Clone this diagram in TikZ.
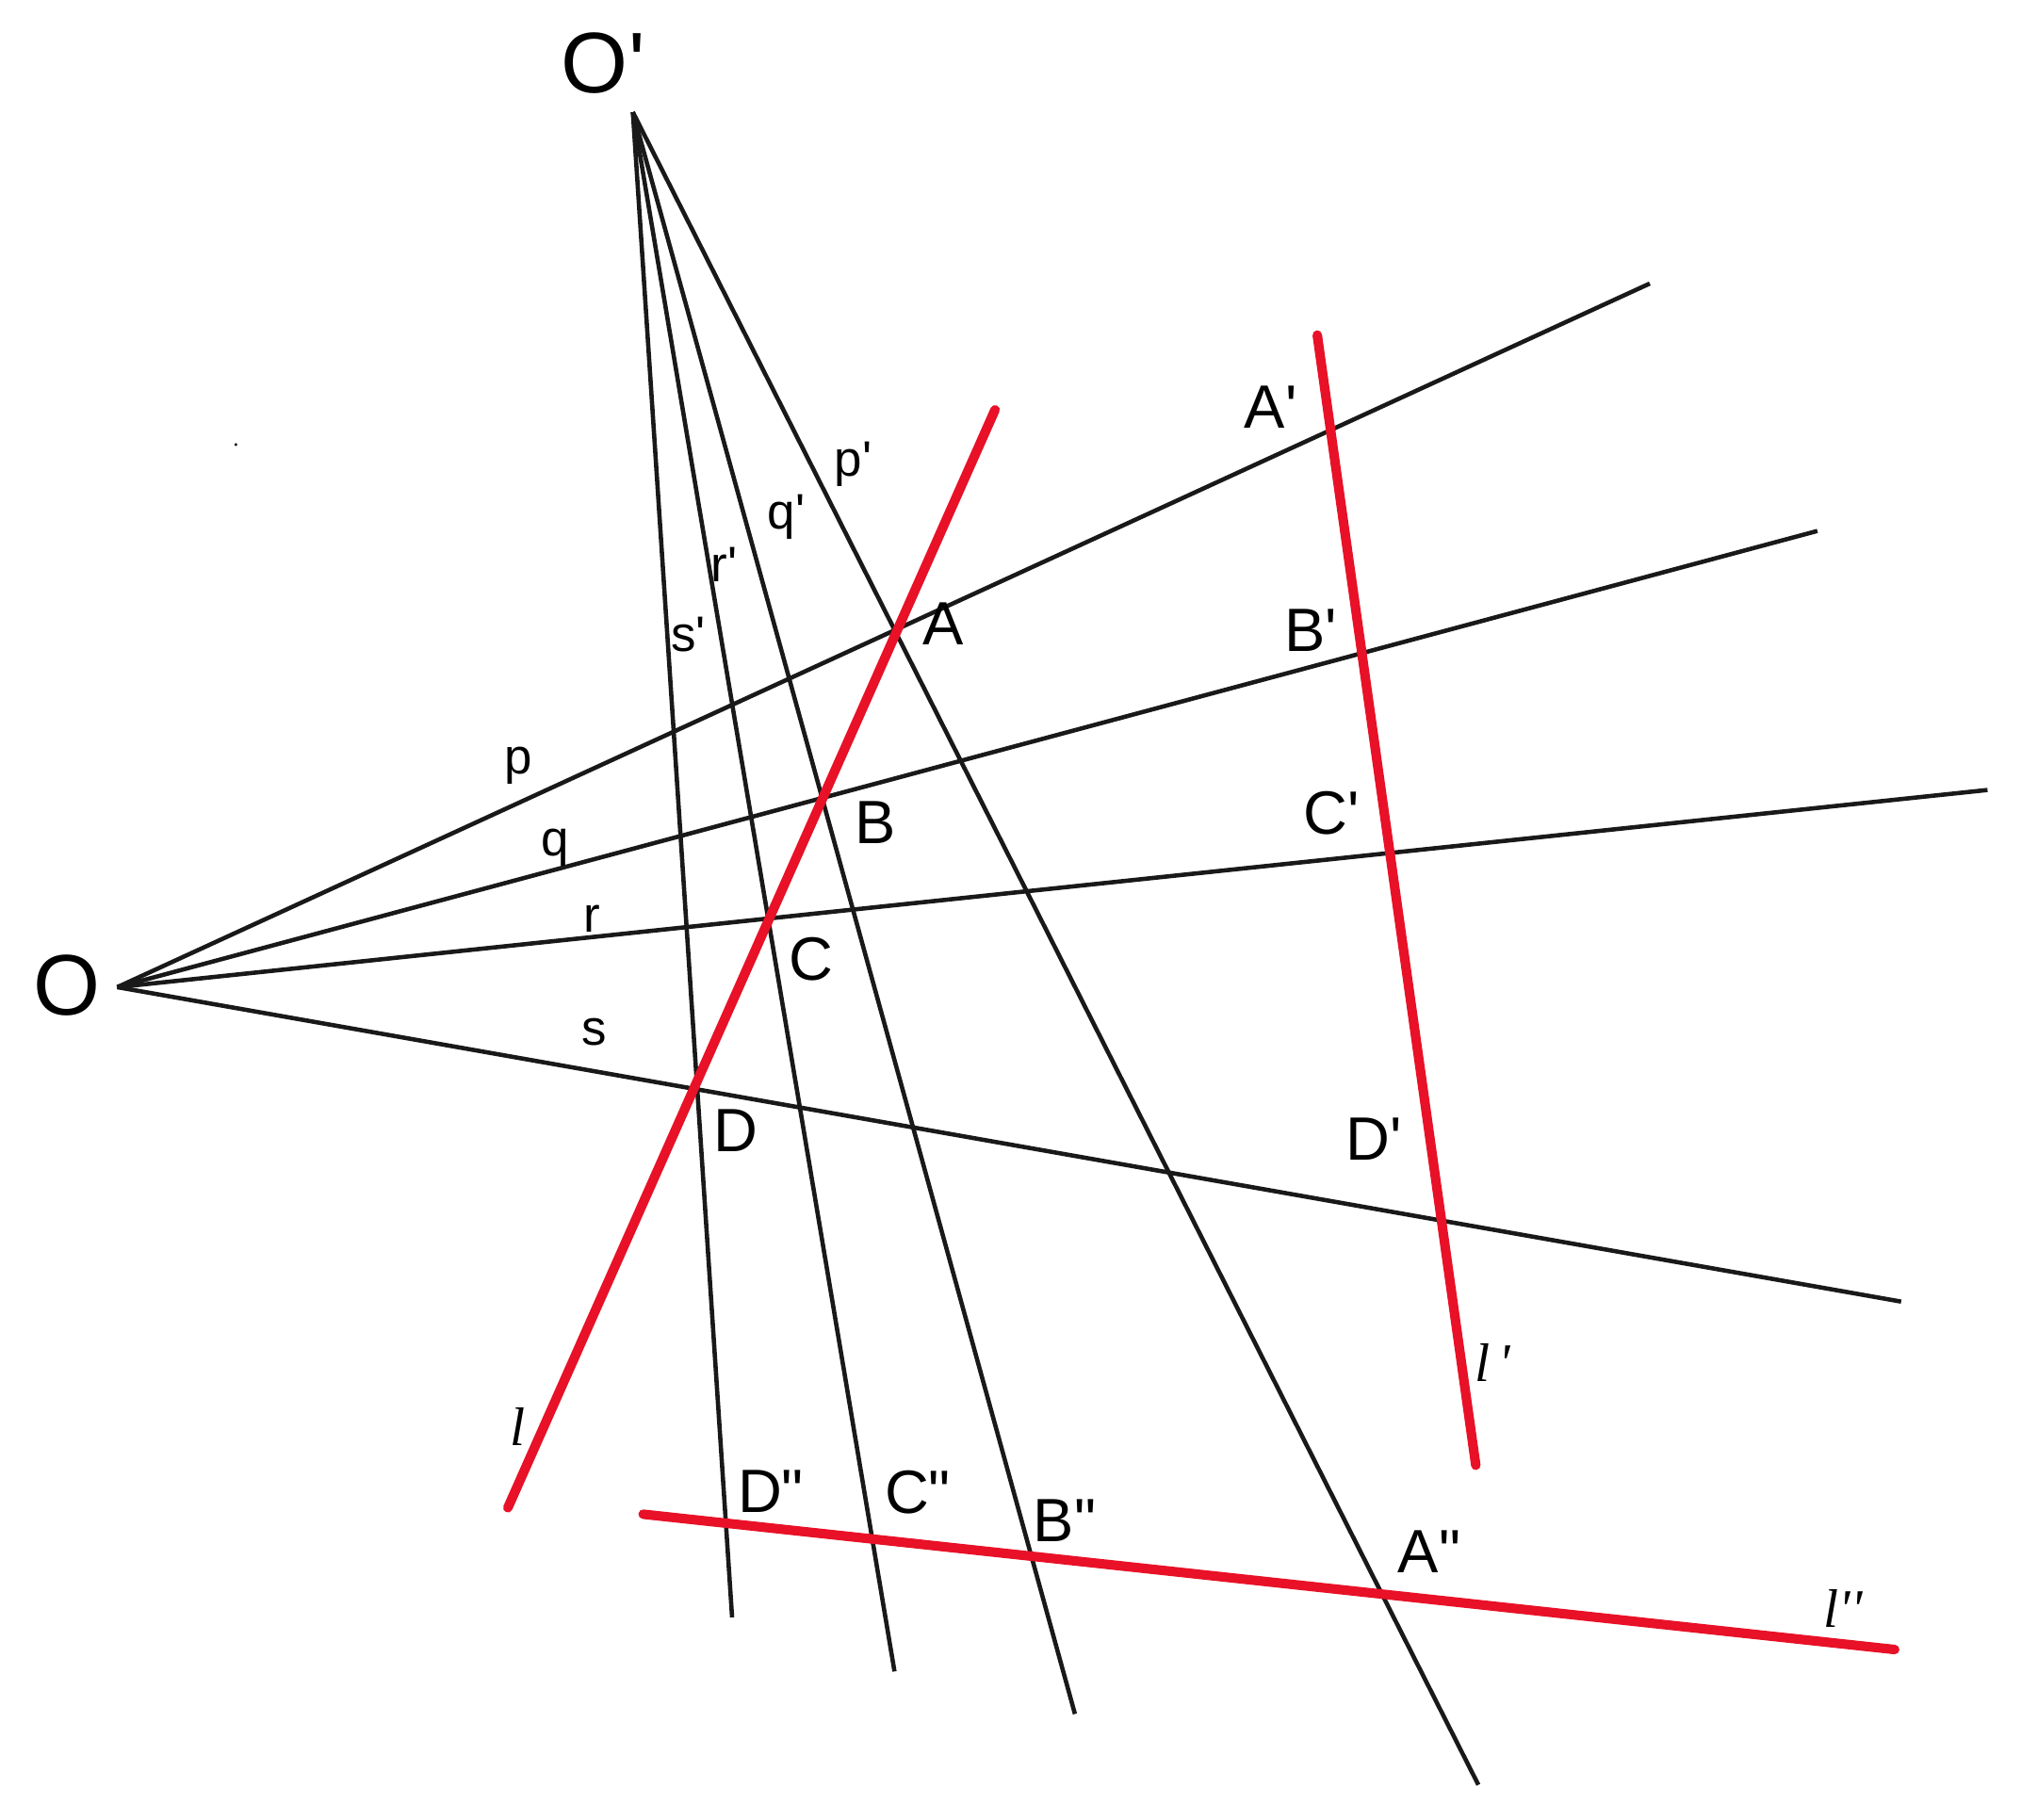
\documentclass[tikz,border=0pt]{standalone}
\usepackage{fontspec}
\setmainfont{Liberation Sans}[Ligatures=TeXOff]
\newfontfamily\ellfont{Liberation Serif}[Ligatures=TeXOff]
\definecolor{linered}{RGB}{232,17,39}

\begin{document}
\begin{tikzpicture}[x=0.1mm, y=-0.1mm]
        \useasboundingbox (0,0) rectangle (1568,1412);

        % Centres of the two pencils
        \coordinate (O) at (91,766);
        \coordinate (O') at (491,87);

        % Far ends of the lines through O
        \coordinate (p) at (1280,220);
        \coordinate (q) at (1410,412);
        \coordinate (r) at (1542,613);
        \coordinate (s) at (1475,1010);

        % Far ends of the lines through O'
        \coordinate (p') at (1147,1385);
        \coordinate (q') at (834,1330);
        \coordinate (r') at (694,1297);
        \coordinate (s') at (568,1255);

        % Ends of the red lines
        \coordinate (l1) at (772,318);
        \coordinate (l2) at (394,1170);
        \coordinate (l'1) at (1022,260);
        \coordinate (l'2) at (1145,1137);
        \coordinate (l''1) at (499,1175);
        \coordinate (l''2) at (1470,1280);

        % Edges
        \tikzstyle{edge} = [draw, line width=0.95pt, black!90]
        \tikzstyle{redline} = [draw, line width=2.1pt, linered, line cap=round]

        \foreach \n in {p,q,r,s}
                \draw[edge] (O) -- (\n);
        \foreach \n in {p',q',r',s'}
                \draw[edge] (O') -- (\n);

        \draw[redline] (l1) -- (l2);
        \draw[redline] (l'1) -- (l'2);
        \draw[redline] (l''1) -- (l''2);

        % stray dot
        \fill (183,345) circle (0.12mm);

        % Big labels
        \tikzstyle{every node}=[inner sep=0pt, font=\fontsize{19}{22}\selectfont]
        \node (labO) at (52,765) {O};
        \node (labO') at (468,49) {O'};

        % Points
        \tikzstyle{every node}=[inner sep=0pt, font=\fontsize{13.5}{16}\selectfont]
        \node (labA) at (732,484) {A};
        \node (labB) at (679,638) {B};
        \node (labC) at (629,744) {C};
        \node (labD) at (571,877) {D};
        \node (labA') at (986,316) {A'};
        \node (labB') at (1017,489) {B'};
        \node (labC') at (1033,631) {C'};
        \node (labD') at (1066,884) {D'};
        \node (labD'') at (598,1157) {D"};
        \node (labC'') at (712,1158) {C"};
        \node (labB'') at (826,1180) {B"};
        \node (labA'') at (1109,1204) {A"};

        % Line names
        \tikzstyle{every node}=[inner sep=0pt, font=\fontsize{11}{13}\selectfont]
        \node (labp) at (402,594) {p};
        \node (labq) at (431,658) {q};
        \node (labr) at (459,713) {r};
        \node (labs) at (461,801) {s};
        \node (labp') at (662,360) {p'};
        \node (labq') at (610,401) {q'};
        \node (labr') at (562,438) {r'};
        \node (labs') at (534,492) {s'};

        \tikzstyle{every node}=[inner sep=0pt, font=\ellfont\itshape\fontsize{12}{14}\selectfont]
        \node (labl) at (402,1107) {l};
        \node (labl') at (1158,1057) {l\,'};
        \node (labl'') at (1430,1248) {l''};
\end{tikzpicture}
\end{document}
